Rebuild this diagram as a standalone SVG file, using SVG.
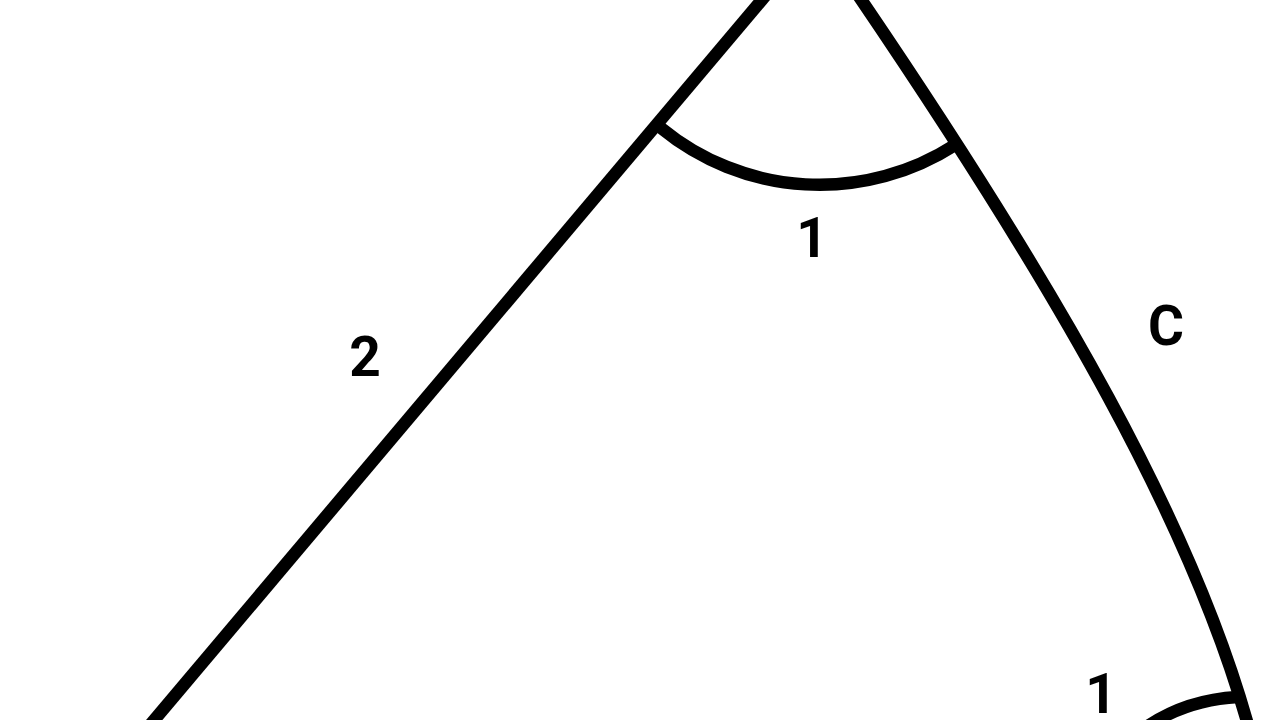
<svg xmlns="http://www.w3.org/2000/svg" width="1280" height="720" viewBox="0 0 1280 720">
<style>
.s{fill:none;stroke:#000;stroke-width:12.5;stroke-linecap:butt;stroke-linejoin:round}
.t{font-family:Roboto,"Liberation Sans",Arial,sans-serif;font-weight:bold;font-size:55px;fill:#000;text-anchor:middle}
</style>
<rect width="1280" height="720" fill="#fff"/>
<g id="shape">
<path class="s" d="M766,-5 L150,725"/>
<path class="s" d="M858,-5 C1062,295 1192,525 1248,725"/>
<path class="s" d="M661,128 A250,250 0 0 0 955,145"/>
<path class="s" d="M1238,697 Q1185,700 1145,728"/>
</g>
<g id="labels">
<text class="t" x="812" y="257">1</text>
<text class="t" x="365" y="376">2</text>
<text class="t" x="1166" y="345">C</text>
<text class="t" x="1101" y="713">1</text>
</g>
</svg>
